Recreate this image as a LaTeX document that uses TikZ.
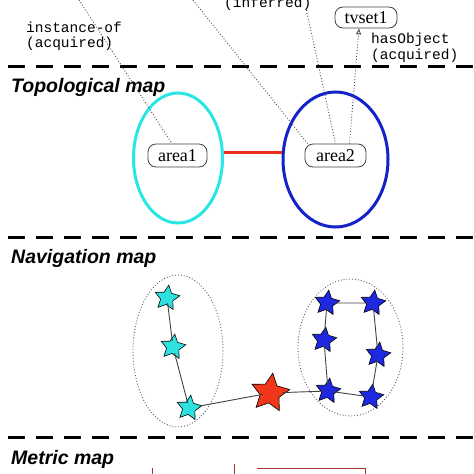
\documentclass[tikz,border=0pt]{standalone}
\usepackage{fontspec}
\setmainfont{Liberation Serif}
\setsansfont{Liberation Sans}
\setmonofont{Liberation Mono}
\usetikzlibrary{shapes.geometric, arrows.meta, positioning}

\definecolor{topocyan}{RGB}{40, 230, 230}
\definecolor{topoblue}{RGB}{20, 35, 200}
\definecolor{linkred}{RGB}{235, 45, 30}
\definecolor{starcyan}{RGB}{45, 225, 225}
\definecolor{starblue}{RGB}{30, 40, 225}
\definecolor{starred}{RGB}{240, 55, 25}
\definecolor{metricred}{RGB}{165, 55, 45}

\tikzset{
  layerline/.style={line width=3pt, dash pattern=on 17pt off 11pt},
  layertitle/.style={anchor=base west, inner sep=0pt, font=\fontsize{19.5}{20}\selectfont\sffamily\bfseries\itshape},
  rellabel/.style={anchor=base west, inner sep=0pt, align=left, font=\fontsize{14.5}{15.5}\selectfont\ttfamily},
  conceptbox/.style={draw=black!75, rounded corners=8pt, line width=0.8pt, minimum width=59pt, minimum height=23pt, inner sep=0pt, font=\fontsize{18}{18}\selectfont},
  relline/.style={dotted, line width=0.9pt, black!70},
  areaoval/.style={ellipse, line width=3pt, inner sep=0pt},
  regionoval/.style={ellipse, dotted, draw=black!65, line width=0.9pt, inner sep=0pt},
  navstar/.style={star, star points=5, star point ratio=2.0, draw=black, line width=0.6pt, minimum size=26pt, inner sep=0pt, rotate=-8},
  navedge/.style={black!75, line width=0.9pt, shorten <=-3pt, shorten >=-3pt},
}

\begin{document}
\begin{tikzpicture}[x=1pt, y=-1pt]
  \useasboundingbox (0, 0) rectangle (474, 474);
  \clip (0, 0) rectangle (474, 474);

  % Layer separators and titles
  \foreach \ly in {66, 237, 437}
    \draw[layerline] (8, \ly) -- (480, \ly);
  \node[layertitle] (topotitle) at (11, 92) {Topological map};
  \node[layertitle] (navtitle) at (11, 263) {Navigation map};
  \node[layertitle] (metrictitle) at (11, 464) {Metric map};

  % Conceptual layer (cut at the top)
  \node[rellabel] (instlabel) at (26, 47.5) {instance-of\\(acquired)};
  \node[rellabel] (inferred) at (224, 7) {(inferred)};
  \node[conceptbox, minimum width=62pt, minimum height=21pt] (tvset) at (366, 17.5) {tvset1};
  \node[rellabel] (haslabel) at (371, 59) {hasObject\\(acquired)};

  % Topological map
  \node[areaoval, draw=topocyan, minimum width=89pt, minimum height=130pt] (topo1) at (178, 158) {};
  \node[areaoval, draw=topoblue, minimum width=105pt, minimum height=135pt] (topo2) at (335.5, 159.5) {};
  \node[conceptbox] (area1) at (177.5, 155.5) {area1};
  \node[conceptbox, minimum width=61pt] (area2) at (335.5, 155.5) {area2};
  \draw[linkred, line width=3pt] ([yshift=6pt]topo1.east) -- ([yshift=7.5pt]topo2.west);

  % Links up to the conceptual layer
  \coordinate (upleft) at (79, 0);
  \coordinate (upmid) at (193, 0);
  \draw[relline] (upleft) -- ([xshift=-5.5pt]area1.north);
  \draw[relline] (upmid) -- ([xshift=3pt]area2.north west);
  \draw[relline] ([xshift=-5pt]inferred.south east) -- (area2.north);
  \draw[relline, -{Triangle[open, length=6pt, width=5pt]}] ([xshift=14pt]area2.north) -- ([xshift=-7pt]tvset.south);

  % Navigation map
  \node[regionoval, minimum width=90pt, minimum height=152pt] (navleft) at (178, 351) {};
  \node[regionoval, minimum width=105pt, minimum height=137pt] (navright) at (350.5, 347.5) {};

  \node[navstar, fill=starcyan] (c1) at (167, 298) {};
  \node[navstar, fill=starcyan] (c2) at (173, 347) {};
  \node[navstar, fill=starcyan] (c3) at (189, 408) {};
  \node[navstar, fill=starred, minimum size=40pt] (door) at (270, 393) {};
  \node[navstar, fill=starblue] (b1) at (327, 303) {};
  \node[navstar, fill=starblue] (b2) at (373, 303) {};
  \node[navstar, fill=starblue] (b3) at (324, 340) {};
  \node[navstar, fill=starblue] (b4) at (378, 355) {};
  \node[navstar, fill=starblue] (b5) at (328, 391) {};
  \node[navstar, fill=starblue] (b6) at (371, 397) {};

  \foreach \from/\to in {c1/c2, c2/c3, c3/door, door/b5, b5/b6, b6/b4, b4/b2, b2/b1, b1/b3, b3/b5}
    \draw[navedge] (\from) -- (\to);

  % Metric map (cut at the bottom)
  \draw[metricred, line width=1pt] (152, 468) -- (152, 480);
  \draw[metricred, line width=1pt] (234, 464) -- (234, 480);
  \draw[metricred, line width=1pt] (257, 468) -- (365, 468) -- (365, 480);
\end{tikzpicture}
\end{document}
